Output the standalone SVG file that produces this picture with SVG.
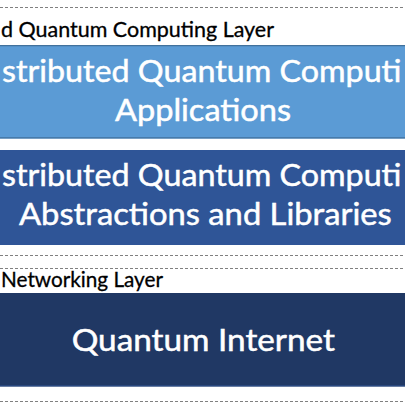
<svg xmlns="http://www.w3.org/2000/svg" width="405" height="405" viewBox="0 0 405 405">
  <style>
    .dash { stroke: #808080; stroke-width: 1; stroke-dasharray: 3 2; fill: none; }
    .heading { font-family: Lato, "Open Sans", "Liberation Sans", sans-serif; font-size: 21px; fill: #000000; stroke: #000000; stroke-width: 0.3; }
    .boxtext { font-family: Lato, "Open Sans", "Liberation Sans", sans-serif; font-size: 31.5px; fill: #ffffff; stroke: #ffffff; stroke-width: 0.5; }
  </style>
  <rect x="0" y="0" width="405" height="405" fill="#ffffff"/>
  <g id="layer-borders">
    <line class="dash" x1="0" y1="7.5" x2="405" y2="7.5"/>
    <line class="dash" x1="0" y1="255.5" x2="405" y2="255.5"/>
    <line class="dash" x1="0" y1="268.5" x2="405" y2="268.5"/>
    <line class="dash" x1="0" y1="401.5" x2="405" y2="401.5"/>
  </g>
  <g id="label-computing-layer">
    <text class="heading" x="1" y="37" textLength="273" lengthAdjust="spacingAndGlyphs">d Quantum Computing Layer</text>
  </g>
  <g id="node-applications">
    <rect x="0" y="45" width="405" height="93.5" fill="#5B9BD5"/>
    <line x1="0" y1="45.6" x2="405" y2="45.6" stroke="#41719C" stroke-width="1.2"/>
    <line x1="0" y1="137.9" x2="405" y2="137.9" stroke="#41719C" stroke-width="1.2"/>
    <text class="boxtext" x="2" y="81.5" textLength="399.5" lengthAdjust="spacingAndGlyphs">stributed Quantum Computi</text>
    <text class="boxtext" x="115" y="120.5" textLength="176" lengthAdjust="spacingAndGlyphs">Applications</text>
  </g>
  <g id="node-abstractions">
    <rect x="0" y="150" width="405" height="95" fill="#2F5597"/>
    <text class="boxtext" x="2" y="186" textLength="399.5" lengthAdjust="spacingAndGlyphs">stributed Quantum Computi</text>
    <text class="boxtext" x="19" y="225" textLength="372.7" lengthAdjust="spacingAndGlyphs">Abstractions and Libraries</text>
  </g>
  <g id="label-networking-layer">
    <text class="heading" x="1" y="286.5" textLength="162" lengthAdjust="spacingAndGlyphs">Networking Layer</text>
  </g>
  <g id="node-quantum-internet">
    <rect x="0" y="293" width="405" height="93.5" fill="#203864"/>
    <line x1="0" y1="385.9" x2="405" y2="385.9" stroke="#2F528F" stroke-width="1"/>
    <text class="boxtext" x="71.7" y="350.5" textLength="263.3" lengthAdjust="spacingAndGlyphs">Quantum Internet</text>
  </g>
  <g id="connectors"/>
</svg>
